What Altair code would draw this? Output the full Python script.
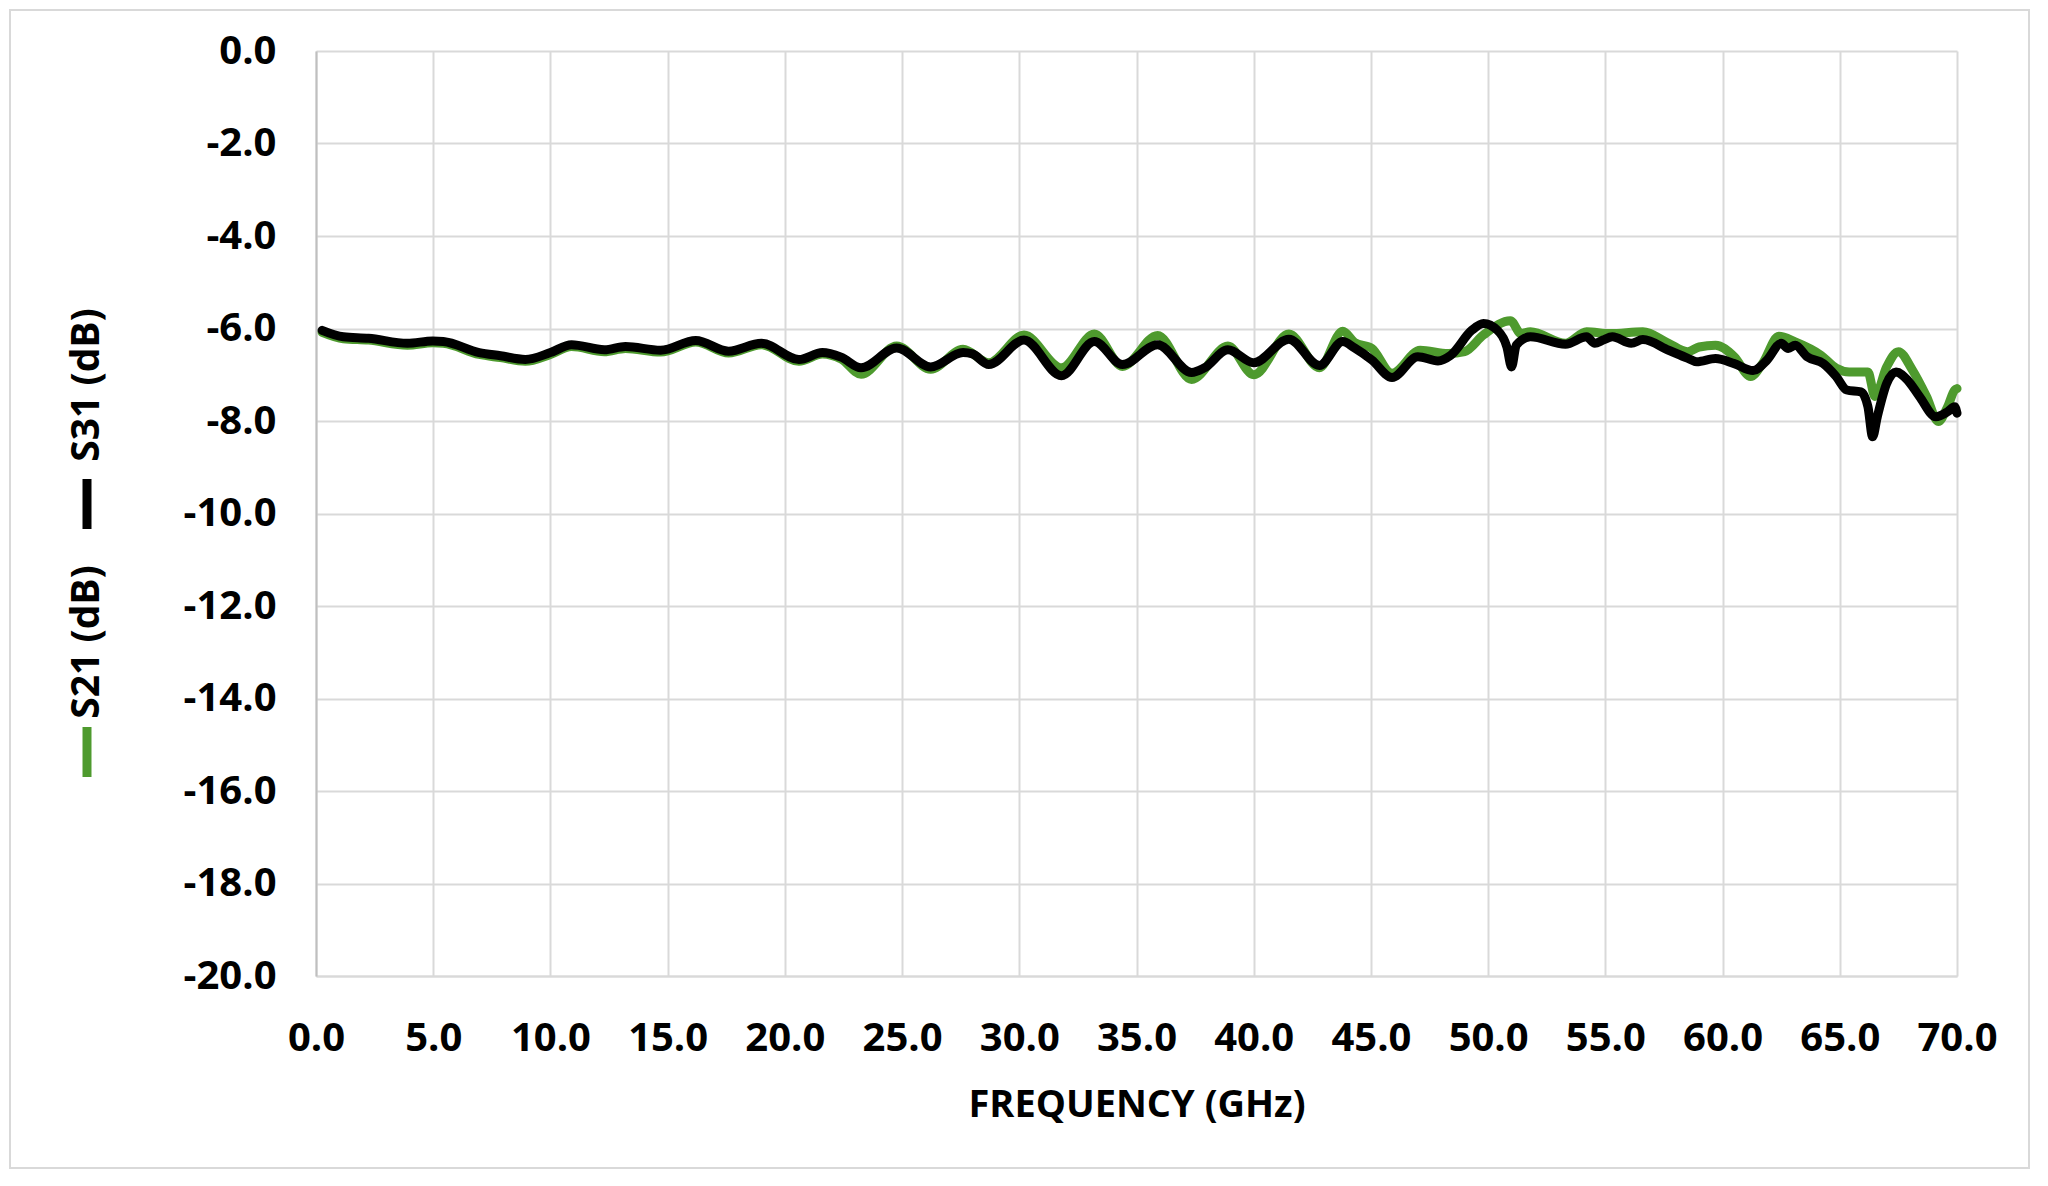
import altair as alt
import pandas as pd

# S31 (black) readings
freq_s31 = [0.26, 1.17, 2.24, 3.9, 4.98, 5.43, 6.96, 7.87, 8.93, 10.0, 10.9, 12.3, 13.2, 14.7,
            16.2, 17.6, 19.0, 20.6, 21.6, 22.4, 23.25, 24.77, 26.22, 27.6, 28.0, 28.7, 30.2,
            31.8, 33.2, 34.4, 35.9, 37.35, 37.9, 38.9, 40.0, 41.5, 42.8, 43.8, 44.3, 45.04,
            45.9, 47.0, 47.86, 48.4, 49.3, 49.8, 50.4, 50.8, 51.0, 51.2, 51.8, 53.3, 54.2,
            54.55, 54.9, 55.3, 56.1, 56.6, 57.7, 58.5, 58.9, 59.7, 60.5, 61.3, 61.9, 62.5,
            62.8, 63.1, 63.6, 64.3, 64.85, 65.3, 65.9, 66.2, 66.4, 66.6, 67.0, 67.4, 67.9,
            68.4, 69.1, 69.6, 69.9, 70.0]
s31 = [-6.04, -6.18, -6.21, -6.32, -6.27, -6.28, -6.52, -6.59, -6.67, -6.52, -6.35, -6.46, -6.39, -6.47,
       -6.26, -6.49, -6.32, -6.67, -6.52, -6.62, -6.85, -6.42, -6.83, -6.52, -6.55, -6.78, -6.25,
       -7.02, -6.28, -6.78, -6.35, -6.95, -6.85, -6.46, -6.74, -6.23, -6.80, -6.28, -6.42, -6.68,
       -7.06, -6.61, -6.70, -6.58, -6.04, -5.89, -6.04, -6.40, -6.83, -6.36, -6.18, -6.34, -6.18,
       -6.32, -6.25, -6.18, -6.32, -6.24, -6.47, -6.64, -6.72, -6.65, -6.76, -6.91, -6.68, -6.32,
       -6.43, -6.36, -6.61, -6.76, -7.04, -7.33, -7.37, -7.69, -8.34, -7.91, -7.19, -6.94, -7.12,
       -7.47, -7.91, -7.80, -7.69, -7.83]

# S21 (green) readings
freq_s21 = [0.26, 1.17, 2.24, 3.9, 4.98, 5.43, 6.96, 7.87, 8.93, 10.0, 10.9, 12.3, 13.2, 14.7,
            16.2, 17.6, 19.0, 20.6, 21.6, 22.4, 23.25, 24.77, 26.22, 27.6, 28.7, 30.2, 31.8,
            33.2, 34.4, 35.9, 37.35, 38.9, 40.0, 41.5, 42.8, 43.8, 44.3, 45.04, 45.9, 47.1,
            48.3, 49.0, 49.8, 50.95, 51.4, 51.8, 53.3, 54.2, 55.2, 56.6, 57.7, 58.5, 59.0,
            59.7, 60.5, 61.2, 61.7, 62.4, 63.1, 64.2, 64.85, 65.4, 66.2, 66.5, 67.0, 67.5,
            68.1, 68.7, 69.2, 69.6, 69.9, 70.0]
s21 = [-6.08, -6.22, -6.25, -6.36, -6.31, -6.32, -6.56, -6.63, -6.71, -6.56, -6.39, -6.50, -6.43, -6.51,
       -6.29, -6.53, -6.35, -6.71, -6.55, -6.66, -6.99, -6.38, -6.88, -6.45, -6.74, -6.14, -6.85,
       -6.12, -6.82, -6.15, -7.10, -6.38, -7.00, -6.12, -6.85, -6.06, -6.30, -6.43, -6.97, -6.47,
       -6.54, -6.50, -6.14, -5.83, -6.11, -6.07, -6.32, -6.07, -6.11, -6.07, -6.32, -6.50, -6.40,
       -6.36, -6.61, -7.04, -6.76, -6.17, -6.29, -6.58, -6.86, -6.94, -6.94, -7.47, -6.83, -6.50,
       -6.90, -7.47, -8.01, -7.69, -7.33, -7.30]

series_names = ["S21 (dB)", "S31 (dB)"]
series_colors = ["#4e9a2e", "#000000"]

x_ticks = [0, 5, 10, 15, 20, 25, 30, 35, 40, 45, 50, 55, 60, 65, 70]
y_ticks = [0, -2, -4, -6, -8, -10, -12, -14, -16, -18, -20]

df = pd.concat([
    pd.DataFrame({"freq": freq_s21, "val": s21, "series": series_names[0]}),
    pd.DataFrame({"freq": freq_s31, "val": s31, "series": series_names[1]}),
])

FONT = "Open Sans"
W, H = 1641, 925
PAD_R, PAD_B = 74, 194

x_enc = alt.X("freq:Q", scale=alt.Scale(domain=[0, 70], nice=False, zero=False),
              axis=alt.Axis(values=x_ticks, format=".1f", title="FREQUENCY (GHz)",
                            labelFontSize=40, labelFontWeight="bold", labelColor="#000000",
                            labelFont=FONT, titleFont=FONT, titleFontSize=38,
                            titleFontWeight="bold", titleColor="#000000",
                            labelPadding=42, titlePadding=28, ticks=False,
                            domainColor="#d9d9d9", domainWidth=2,
                            gridColor="#d9d9d9", gridWidth=2, labelFlush=False))
y_enc = alt.Y("val:Q", scale=alt.Scale(domain=[-20, 0], nice=False, zero=False),
              axis=alt.Axis(values=y_ticks, title=None,
                            labelExpr="datum.value == 0 ? '0.0' : '-' + format(abs(datum.value), '.1f')",
                            labelFontSize=40, labelFontWeight="bold", labelColor="#000000",
                            labelFont=FONT, labelPadding=40, ticks=False,
                            domainColor="#bfbfbf", domainWidth=2,
                            gridColor="#d9d9d9", gridWidth=2))

lines = alt.Chart(df).mark_line(strokeWidth=9, interpolate="monotone", strokeCap="round",
                                strokeJoin="round").encode(
    x=x_enc, y=y_enc,
    color=alt.Color("series:N", scale=alt.Scale(domain=series_names, range=series_colors), legend=None),
    order=alt.Order("freq:Q"),
    detail="series:N",
)

# manual rotated legend on the left
def legend_text(label, ypos):
    return alt.Chart(pd.DataFrame({"t": [label]})).mark_text(
        angle=270, font=FONT, fontSize=39, fontWeight="bold", color="#000000",
        align="center", baseline="middle").encode(
        text="t:N", x=alt.value(-229), y=alt.value(ypos))

def legend_swatch(color, y1, y2):
    return alt.Chart(pd.DataFrame({"t": [0]})).mark_rule(color=color, strokeWidth=9).encode(
        x=alt.value(-229), y=alt.value(y1), y2=alt.value(y2))

frame = alt.Chart(pd.DataFrame({"t": [0]})).mark_rect(
    fill=None, stroke="#d9d9d9", strokeWidth=2).encode(
    x=alt.value(-306), x2=alt.value(W + PAD_R - 2), y=alt.value(-41), y2=alt.value(H + PAD_B - 2))

chart = alt.layer(
    frame,
    lines,
    legend_swatch(series_colors[0], 676, 726),
    legend_text(series_names[0], 591),
    legend_swatch(series_colors[1], 428, 478),
    legend_text(series_names[1], 334),
).properties(
    width=W, height=H,
    padding={"left": 308, "top": 43, "right": PAD_R, "bottom": PAD_B},
    autosize=alt.AutoSizeParams(type="none"),
    background="#ffffff",
).configure_view(stroke=None)

chart.save("out.html", embed_options={"renderer": "svg", "actions": False})
